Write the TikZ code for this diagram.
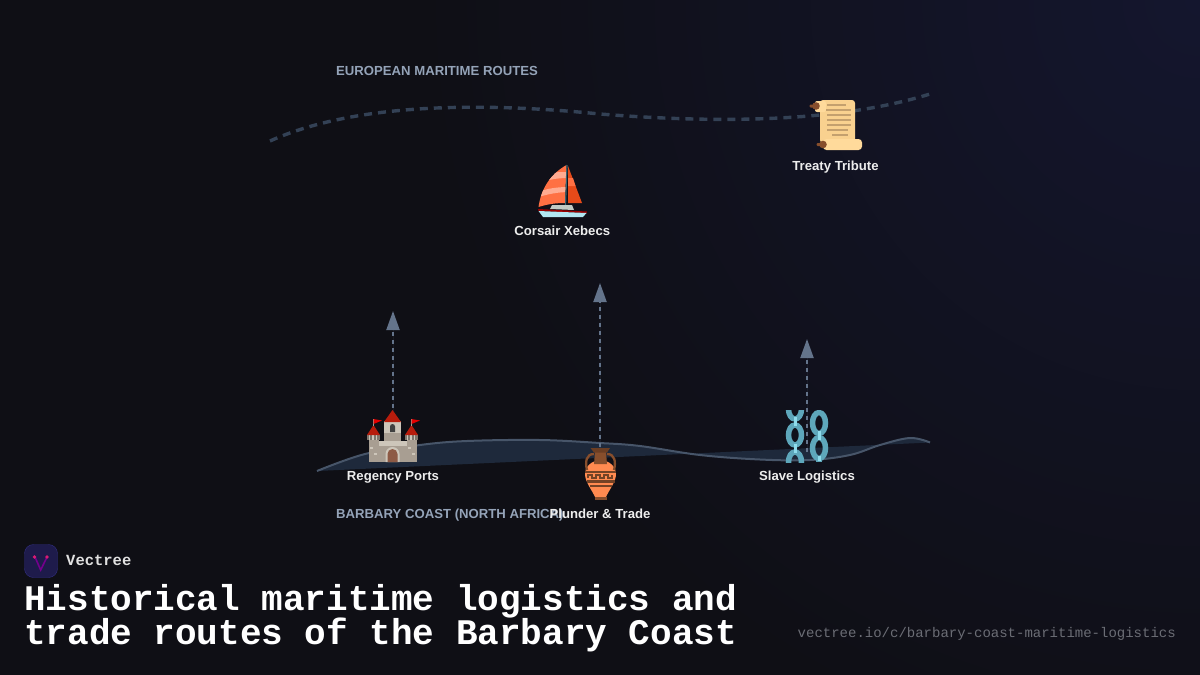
\documentclass[tikz,border=0pt]{standalone}
\usepackage{fontspec}
\setmainfont{Liberation Sans}
\newfontfamily\monofont{Liberation Mono}
\usetikzlibrary{arrows.meta, positioning}
\definecolor{bgdark}{RGB}{15,15,21}
\definecolor{bgblue}{RGB}{20,22,46}
\definecolor{routeline}{RGB}{51,65,85}
\definecolor{coastfill}{RGB}{30,41,59}
\definecolor{coastline}{RGB}{71,85,105}
\definecolor{arrowgrey}{RGB}{100,116,139}
\definecolor{regionlabel}{RGB}{148,163,184}
\definecolor{urlgrey}{RGB}{107,109,117}
\definecolor{sailorange}{RGB}{255,112,67}
\definecolor{saillight}{RGB}{255,171,145}
\definecolor{saildark}{RGB}{230,74,25}
\definecolor{stonemid}{RGB}{168,158,146}
\definecolor{stonelight}{RGB}{205,198,186}
\definecolor{stonedark}{RGB}{125,117,108}
\definecolor{roofred}{RGB}{183,28,12}
\definecolor{doorbrown}{RGB}{141,90,69}
\definecolor{potorange}{RGB}{255,138,80}
\definecolor{potbrown}{RGB}{135,78,44}
\definecolor{chainblue}{RGB}{94,167,187}
\definecolor{chainlight}{RGB}{143,220,236}
\definecolor{scrollbody}{RGB}{249,209,143}
\definecolor{scrollroll}{RGB}{255,218,155}
\definecolor{scrolltext}{RGB}{196,160,110}
\definecolor{logofill}{RGB}{30,27,75}
\definecolor{logoline}{RGB}{49,46,129}
\tikzset{
  nodelabel/.style={font=\bfseries\fontsize{13.15}{13}\selectfont, text=white!93!black, inner sep=0pt, anchor=base},
  regionname/.style={font=\bfseries\fontsize{13.15}{13}\selectfont, text=regionlabel, inner sep=0pt, anchor=base west},
  flowarrow/.style={-{Triangle[length=19pt,width=13pt]}, draw=arrowgrey, fill=arrowgrey, line width=2pt, dash pattern=on 4pt off 4pt},
  chainlink/.style={draw=chainblue, line width=5.5pt},
  chainjoin/.style={draw=chainlight, line width=3pt}
}
\begin{document}
\begin{tikzpicture}[x=1pt, y=-1pt]
  % background
  \fill[bgdark] (0,0) rectangle (1200,675);
  \begin{scope}
    \clip (0,0) rectangle (1200,675);
    \shade[inner color=bgblue, outer color=bgdark] (1200,0) circle (780);
  \end{scope}
  \useasboundingbox (0,0) rectangle (1200,675);

  % route and coast
  \draw[routeline, line width=3.4pt, dash pattern=on 8pt off 6pt]
    (270,141) .. controls (350,105) and (470,101) .. (600,114) .. controls (700,122) and (830,125) .. (930,94);
  \draw[coastline, fill=coastfill, line width=2pt]
    plot[smooth, tension=0.6] coordinates {(317,471) (365,454) (420,445) (467,441) (540,440) (600,443) (640,446) (700,455) (760,459.5) (810,460) (850,455) (880,445) (910,438) (930,442.5)};

  \node[regionname] (europe) at (336,75) {EUROPEAN MARITIME ROUTES};
  \node[regionname] (barbary) at (336,518) {BARBARY COAST (NORTH AFRICA)};

  % arrows
  \coordinate (regencyfoot) at (393,440);
  \coordinate (regencytip) at (393,311);
  \coordinate (plunderfoot) at (600,455);
  \coordinate (plundertip) at (600,283);
  \coordinate (slavefoot) at (807,452);
  \coordinate (slavetip) at (807,339);
  \draw[flowarrow] (regencyfoot) -- (regencytip);
  \draw[flowarrow] (plunderfoot) -- (plundertip);
  \draw[flowarrow] (slavefoot) -- (slavetip);

  % castle
  \fill[stonemid] (384,421) rectangle (401,443);
  \fill[stonelight] (384,421) rectangle (401,433);
  \fill[roofred] (392.5,410) -- (401,422) -- (384,422) -- cycle;
  \fill[black!75] (390,432) -- (390,426.5) arc[start angle=180, end angle=360, radius=2.5] -- (395,432) -- cycle;
  \fill[stonemid] (371,445) rectangle (414,462);
  \fill[stonelight] (377,440.5) rectangle (408,446);
  \foreach \tx in {367,405} {
    \fill[stonemid] (\tx+1.5,437) rectangle (\tx+11.5,462);
    \fill[stonedark] (\tx,434.5) rectangle (\tx+13,440);
    \foreach \cx in {2.5,6,9.5} {
      \fill[stonelight] (\tx+\cx-0.7,435) rectangle (\tx+\cx+0.7,440);
    }
    \fill[roofred] (\tx+6.5,425) -- (\tx+13,435) -- (\tx,435) -- cycle;
    \draw[stonemid, line width=0.8pt] (\tx+6.5,426) -- (\tx+6.5,419);
    \fill[red!90!black] (\tx+6.5,419) -- (\tx+15,420.5) -- (\tx+6.5,424) -- cycle;
    \fill[stonelight] (\tx+3,447) rectangle (\tx+6,449);
    \fill[stonelight] (\tx+7,453) rectangle (\tx+10,455);
  }
  \fill[stonelight] (385.5,462) -- (385.5,454) arc[start angle=180, end angle=360, radius=7] -- (399.5,462) -- cycle;
  \fill[doorbrown] (387.5,462) -- (387.5,454) arc[start angle=180, end angle=360, radius=5] -- (397.5,462) -- cycle;

  % amphora
  \fill[potorange] (595,461) .. controls (590,463) and (585,467) .. (585,474) .. controls (585,482) and (592,490) .. (595,497) -- (606,497) .. controls (609,490) and (616,482) .. (616,474) .. controls (616,467) and (611,463) .. (606,461) -- cycle;
  \draw[potbrown, line width=2.3pt] (594,454) .. controls (586,454) and (585,462) .. (587,470);
  \draw[potbrown, line width=2.3pt] (607,454) .. controls (615,454) and (616,462) .. (614,470);
  \fill[potbrown] (595,452) -- (606,452) -- (607,464) -- (594,464) -- cycle;
  \fill[potbrown!80!black] (590.5,448) -- (610,448) -- (607,452.5) -- (594,452.5) -- cycle;
  \fill[potbrown!85!black] (585,470.5) rectangle (616,472.5);
  \fill[potbrown!85!black] (586.5,480) rectangle (614.5,482.5);
  \fill[potbrown!85!black] (589.5,485) rectangle (611.5,486.5);
  \draw[potbrown!85!black, line width=1.2pt] (588,478) -- (588,475) -- (592,475) -- (592,478) -- (596,478) -- (596,475) -- (600,475) -- (600,478) -- (604,478) -- (604,475) -- (608,475) -- (608,478) -- (612,478) -- (612,475);
  \fill[potbrown] (594.5,497) rectangle (606.5,500);

  % chains
  \begin{scope}
    \clip (780,410) rectangle (830,462);
    \draw[chainlink] (795,435) ellipse (6.5pt and 10pt);
    \draw[chainlink] (795,409) ellipse (6.5pt and 10pt);
    \draw[chainlink] (795,462) ellipse (6.5pt and 10pt);
    \draw[chainlink] (819,423) ellipse (6.5pt and 10.5pt);
    \draw[chainlink] (819,448) ellipse (6.5pt and 10.5pt);
    \draw[chainlink] (819,458) -- (819,462);
    \draw[chainjoin] (795,417) -- (795,426);
    \draw[chainjoin] (795,444) -- (795,453);
    \draw[chainjoin] (819,431) -- (819,440);
    \draw[chainjoin] (819,456) -- (819,461);
  \end{scope}

  % sailing boat
  \begin{scope}
    \clip (566.5,165) .. controls (549,175) and (541,190) .. (538.5,207) .. controls (548,204) and (556,203) .. (565,203) -- cycle;
    \fill[sailorange] (535,160) rectangle (570,210);
    \fill[saillight] (540,176) .. controls (550,172) and (558,172) .. (570,172) -- (570,178) .. controls (558,178) and (550,179) .. (540,183) -- cycle;
    \fill[saillight] (535,193) .. controls (548,188) and (558,187) .. (570,187) -- (570,192) .. controls (558,192) and (548,194) .. (535,198) -- cycle;
  \end{scope}
  \fill[saildark] (568,166) -- (582,203) -- (568,203) -- cycle;
  \fill[sailorange] (568,178) -- (573,178) -- (575.5,186) -- (568,186) -- cycle;
  \draw[black!40!chainblue, line width=1.2pt] (567,165) -- (565.5,206);
  \fill[stonelight!80!chainlight] (550,209) -- (552,205) -- (572,205) -- (574,210) -- cycle;
  \fill[red!60!black] (538,209) -- (587,211.5) -- (586.5,213) -- (538.5,211) -- cycle;
  \fill[chainlight!70!white] (538.5,211) -- (586.5,213) -- (583,217) -- (543,217) -- cycle;

  % scroll
  \fill[scrollbody, rounded corners=3pt] (820,100) rectangle (855,143);
  \fill[scrollroll, rounded corners=2pt] (815,101) rectangle (826,112);
  \foreach \ly/\la/\lb in {105/827/846, 110/826/851, 115/827/851, 120/827/851, 125/827/851, 130/827/848, 135/832/848} {
    \draw[scrolltext, line width=1.2pt] (\la,\ly) -- (\lb,\ly);
  }
  \fill[scrollroll, rounded corners=3.5pt] (823,139) rectangle (862,150);
  \fill[potbrown] (816,106) circle (3.8pt);
  \fill[potbrown, rounded corners=1pt] (809.5,104.5) rectangle (815,107.5);
  \fill[potbrown] (823,144.5) circle (3.8pt);
  \fill[potbrown, rounded corners=1pt] (816.5,143) rectangle (822,146);

  % labels
  \node[nodelabel] (regency) at (393,480) {Regency Ports};
  \node[nodelabel] (plunder) at (600,518) {Plunder \& Trade};
  \node[nodelabel] (slave) at (807,480) {Slave Logistics};
  \node[nodelabel] (corsair) at (562.3,235) {Corsair Xebecs};
  \node[nodelabel] (treaty) at (835.5,170) {Treaty Tribute};

  % footer
  \draw[logoline, fill=logofill, rounded corners=9pt] (24.5,544.5) rectangle (57.5,577.5);
  \draw[purple!60!blue, line width=1.6pt] (35,557) -- (40.7,570) -- (47,557);
  \fill[magenta!60!purple] (34.5,557) circle (1.8pt) (47,557) circle (1.8pt);
  \node[font=\monofont\bfseries\fontsize{15.5}{16}\selectfont, text=white!88!black, inner sep=0pt, anchor=base west] (brand) at (66,565.5) {Vectree};
  \node[font=\monofont\bfseries\fontsize{36}{33}\selectfont, text=white, inner sep=0pt, anchor=base west, align=left] (headline) at (24,644) {Historical maritime logistics and\\[-2pt]trade routes of the Barbary Coast};
  \node[font=\monofont\fontsize{14}{14}\selectfont, text=urlgrey, inner sep=0pt, anchor=base east] (weblink) at (1176,637) {vectree.io/c/barbary-coast-maritime-logistics};
\end{tikzpicture}
\end{document}
